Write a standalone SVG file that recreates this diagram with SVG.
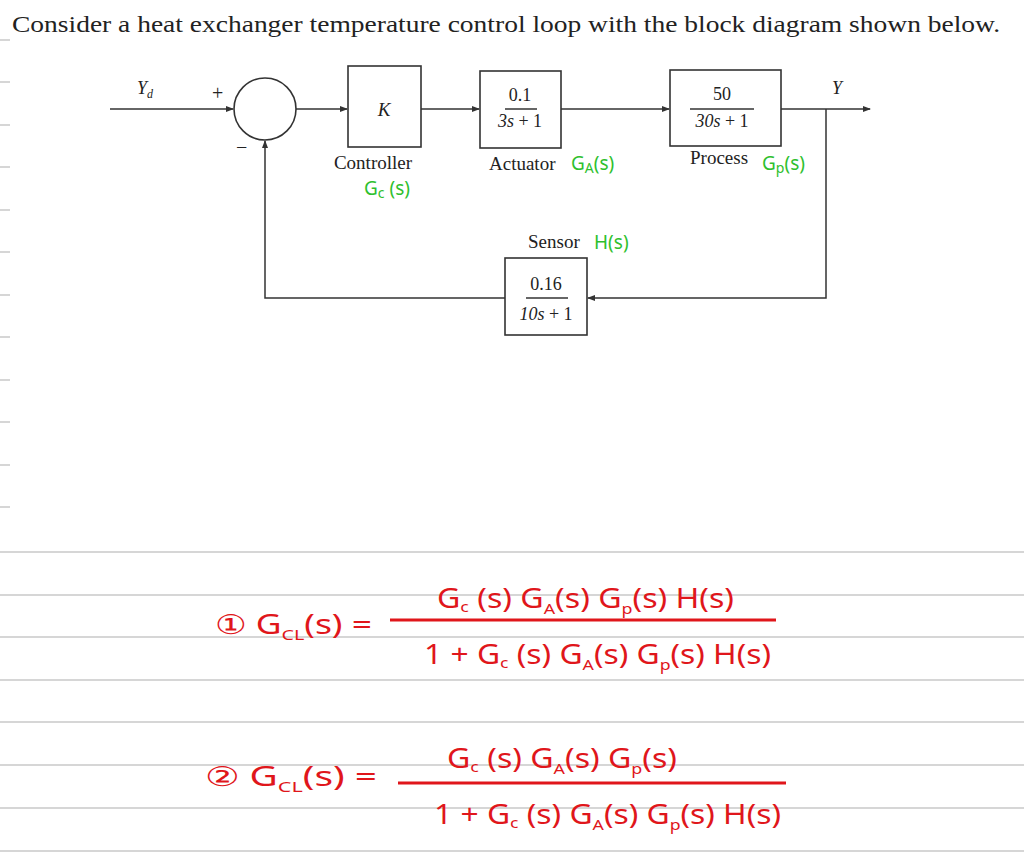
<svg xmlns="http://www.w3.org/2000/svg" width="1024" height="854" viewBox="0 0 1024 854">
<style>
.ser{font-family:"Liberation Serif",serif;fill:#222}
.it{font-style:italic}
.blk{fill:#fff;stroke:#333;stroke-width:1.6}
.ln{stroke:#333;stroke-width:1.5;fill:none}
.rule{stroke:#c8c8c8;stroke-width:1.5}
.tick{stroke:#bbb;stroke-width:1.2}
.g{font-family:"Noto Sans",sans-serif;fill:#2ec02e;font-size:19px}
.r{font-family:"Noto Sans",sans-serif;fill:#e0161b;font-size:27px}
.rs{font-size:15px}
.fr{stroke:#e0161b;stroke-width:3}
</style>
<defs><marker id="a" markerWidth="8" markerHeight="6" refX="7" refY="3" orient="auto" markerUnits="userSpaceOnUse"><path d="M0,0L8,3L0,6z" fill="#333"/></marker></defs>
<g id="rules">
<line class="tick" x1="0" y1="40" x2="10" y2="40"/>
<line class="tick" x1="0" y1="82" x2="10" y2="82"/><line class="tick" x1="0" y1="125" x2="10" y2="125"/><line class="tick" x1="0" y1="167" x2="10" y2="167"/><line class="tick" x1="0" y1="210" x2="10" y2="210"/><line class="tick" x1="0" y1="252" x2="10" y2="252"/><line class="tick" x1="0" y1="295" x2="10" y2="295"/><line class="tick" x1="0" y1="337" x2="10" y2="337"/><line class="tick" x1="0" y1="380" x2="10" y2="380"/><line class="tick" x1="0" y1="422" x2="10" y2="422"/><line class="tick" x1="0" y1="465" x2="10" y2="465"/><line class="tick" x1="0" y1="507" x2="10" y2="507"/>
<line class="rule" x1="0" y1="552" x2="1024" y2="552"/><line class="rule" x1="0" y1="595" x2="1024" y2="595"/><line class="rule" x1="0" y1="637" x2="1024" y2="637"/><line class="rule" x1="0" y1="680" x2="1024" y2="680"/><line class="rule" x1="0" y1="722" x2="1024" y2="722"/><line class="rule" x1="0" y1="765" x2="1024" y2="765"/><line class="rule" x1="0" y1="808" x2="1024" y2="808"/><line class="rule" x1="0" y1="851" x2="1024" y2="851"/>
</g>
<text class="ser" x="12" y="32" font-size="24" textLength="988" lengthAdjust="spacingAndGlyphs">Consider a heat exchanger temperature control loop with the block diagram shown below.</text>
<g id="connectors">
<line class="ln" x1="110" y1="109" x2="233" y2="109" marker-end="url(#a)"/>
<line class="ln" x1="296" y1="109" x2="347" y2="109" marker-end="url(#a)"/>
<line class="ln" x1="421" y1="109" x2="479" y2="109" marker-end="url(#a)"/>
<line class="ln" x1="561" y1="109" x2="669" y2="109" marker-end="url(#a)"/>
<line class="ln" x1="781" y1="109" x2="870" y2="109" marker-end="url(#a)"/>
<polyline class="ln" points="826,109 826,298 588,298" marker-end="url(#a)"/>
<polyline class="ln" points="505,298 265,298 265,141" marker-end="url(#a)"/>
</g>
<g id="sum"><circle class="blk" cx="265" cy="109" r="31"/></g>
<text class="ser it" x="137" y="94" font-size="18">Y<tspan font-size="12" dy="4">d</tspan></text>
<text class="ser" x="212" y="100" font-size="20">+</text>
<text class="ser" x="236" y="154" font-size="20">−</text>
<text class="ser it" x="832" y="94" font-size="18">Y</text>
<g id="controller"><rect class="blk" x="348" y="66" width="73" height="81"/>
<text class="ser it" x="384" y="116" font-size="19" text-anchor="middle">K</text>
<text class="ser" x="373" y="169" font-size="19" text-anchor="middle">Controller</text>
<text class="g" x="364" y="195">G<tspan font-size="14" dy="3">c</tspan><tspan dy="-3"> (s)</tspan></text></g>
<g id="actuator"><rect class="blk" x="480" y="71" width="81" height="77"/>
<text class="ser" x="520" y="101" font-size="18" text-anchor="middle">0.1</text>
<line class="ln" x1="505" y1="109" x2="537" y2="109" stroke-width="1"/>
<text class="ser" x="520" y="127" font-size="18" text-anchor="middle"><tspan class="it">3s</tspan> + 1</text>
<text class="ser" x="489" y="170" font-size="19">Actuator</text>
<text class="g" x="571" y="170">G<tspan font-size="14" dy="3">A</tspan><tspan dy="-3">(s)</tspan></text></g>
<g id="process"><rect class="blk" x="670" y="70" width="111" height="76"/>
<text class="ser" x="722" y="100" font-size="18" text-anchor="middle">50</text>
<line class="ln" x1="690" y1="109" x2="754" y2="109" stroke-width="1"/>
<text class="ser" x="722" y="127" font-size="18" text-anchor="middle"><tspan class="it">30s</tspan> + 1</text>
<text class="ser" x="690" y="164" font-size="19">Process</text>
<text class="g" x="762" y="170">G<tspan font-size="14" dy="3">p</tspan><tspan dy="-3">(s)</tspan></text></g>
<g id="sensor"><rect class="blk" x="505" y="258" width="82" height="77"/>
<text class="ser" x="546" y="290" font-size="18" text-anchor="middle">0.16</text>
<line class="ln" x1="526" y1="298" x2="568" y2="298" stroke-width="1"/>
<text class="ser" x="546" y="320" font-size="18" text-anchor="middle"><tspan class="it">10s</tspan> + 1</text>
<text class="ser" x="528" y="248" font-size="19">Sensor</text>
<text class="g" x="594" y="249">H(s)</text></g>
<g id="eq1">
<text class="r" x="215" y="634" textLength="157" lengthAdjust="spacingAndGlyphs">① G<tspan class="rs" dy="6">CL</tspan><tspan dy="-6">(s) =</tspan></text>
<text class="r" x="437" y="608" textLength="297" lengthAdjust="spacingAndGlyphs">G<tspan class="rs" dy="4">c</tspan><tspan dy="-4"> (s) G</tspan><tspan class="rs" dy="6">A</tspan><tspan dy="-6">(s) G</tspan><tspan class="rs" dy="6">p</tspan><tspan dy="-6">(s) H(s)</tspan></text>
<line class="fr" x1="390" y1="620" x2="776" y2="620"/>
<text class="r" x="424" y="664" textLength="347" lengthAdjust="spacingAndGlyphs">1 + G<tspan class="rs" dy="4">c</tspan><tspan dy="-4"> (s) G</tspan><tspan class="rs" dy="6">A</tspan><tspan dy="-6">(s) G</tspan><tspan class="rs" dy="6">p</tspan><tspan dy="-6">(s) H(s)</tspan></text>
</g>
<g id="eq2">
<text class="r" x="205" y="786" textLength="172" lengthAdjust="spacingAndGlyphs">② G<tspan class="rs" dy="6">CL</tspan><tspan dy="-6">(s)  =</tspan></text>
<text class="r" x="447" y="768" textLength="230" lengthAdjust="spacingAndGlyphs">G<tspan class="rs" dy="4">c</tspan><tspan dy="-4"> (s) G</tspan><tspan class="rs" dy="6">A</tspan><tspan dy="-6">(s) G</tspan><tspan class="rs" dy="6">p</tspan><tspan dy="-6">(s)</tspan></text>
<line class="fr" x1="398" y1="783" x2="786" y2="783"/>
<text class="r" x="434" y="824" textLength="347" lengthAdjust="spacingAndGlyphs">1 + G<tspan class="rs" dy="4">c</tspan><tspan dy="-4"> (s) G</tspan><tspan class="rs" dy="6">A</tspan><tspan dy="-6">(s) G</tspan><tspan class="rs" dy="6">p</tspan><tspan dy="-6">(s) H(s)</tspan></text>
</g>
</svg>
